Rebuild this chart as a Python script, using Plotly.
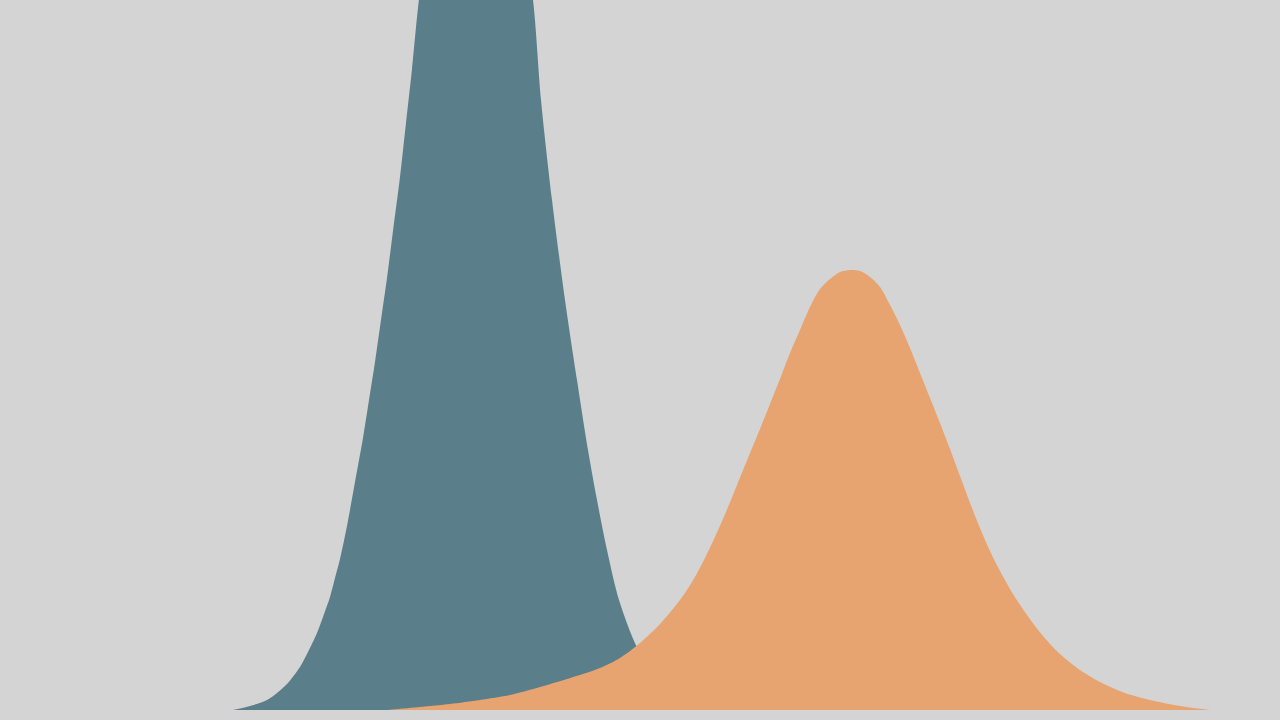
import plotly.graph_objects as go

# Blue-grey distribution (x position, height above baseline)
teal_x = [233, 250, 267, 277, 287, 300, 308, 317, 323, 330, 335, 340, 347, 355,
          363, 369, 375, 381, 387, 393, 400, 406, 412, 419, 430, 450, 476, 500,
          520, 533, 541, 552, 565, 577, 588, 597, 607, 619, 637, 650, 665, 685,
          710, 740, 780, 830, 880]
teal_y = [0, 4, 10, 17, 26, 43, 58, 77, 93, 113, 132, 151, 184, 228,
          272, 310, 348, 390, 432, 479, 533, 587, 641, 711, 790, 845, 860, 845,
          790, 710, 610, 510, 410, 330, 260, 210, 160, 110, 63, 45, 32, 21,
          13, 7, 3, 1, 0]

# Orange distribution
orange_x = [387, 420, 450, 480, 510, 540, 567, 600, 620, 640, 660, 680, 692, 703,
            715, 726, 737, 748, 760, 770, 780, 790, 800, 810, 820, 830, 840, 850,
            860, 870, 880, 890, 900, 910, 920, 930, 940, 950, 960, 970, 980, 990,
            1000, 1013, 1027, 1043, 1060, 1080, 1100, 1125, 1150, 1180, 1210]
orange_y = [0, 3, 6, 10, 15, 23, 31, 42, 52, 67, 86, 110, 128, 148,
            173, 198, 225, 252, 281, 306, 331, 357, 380, 403, 421, 431, 438, 440,
            439, 433, 423, 405, 385, 362, 337, 312, 287, 261, 234, 207, 182, 159,
            139, 116, 95, 74, 56, 40, 28, 17, 10, 4, 0]

BG = "#d3d4d3"
fig = go.Figure()
fig.add_trace(go.Scatter(x=teal_x, y=teal_y, mode="lines", fill="tozeroy",
                         line=dict(width=0, shape="spline", smoothing=0.8, color="#5a7f8b"),
                         fillcolor="#5a7f8b", hoverinfo="skip"))
fig.add_trace(go.Scatter(x=orange_x, y=orange_y, mode="lines", fill="tozeroy",
                         line=dict(width=0, shape="spline", smoothing=0.8, color="#e8a470"),
                         fillcolor="#e8a470", hoverinfo="skip"))
fig.update_layout(width=1280, height=720, margin=dict(l=0, r=0, t=0, b=0),
                  paper_bgcolor=BG, plot_bgcolor=BG, showlegend=False)
fig.update_xaxes(range=[0, 1280], visible=False)
fig.update_yaxes(range=[-10, 710], visible=False)
fig.write_html("out.html", config={"displayModeBar": False},
               post_script="document.body.style.margin='0';"
                           "document.body.style.background='#d3d4d3';")
